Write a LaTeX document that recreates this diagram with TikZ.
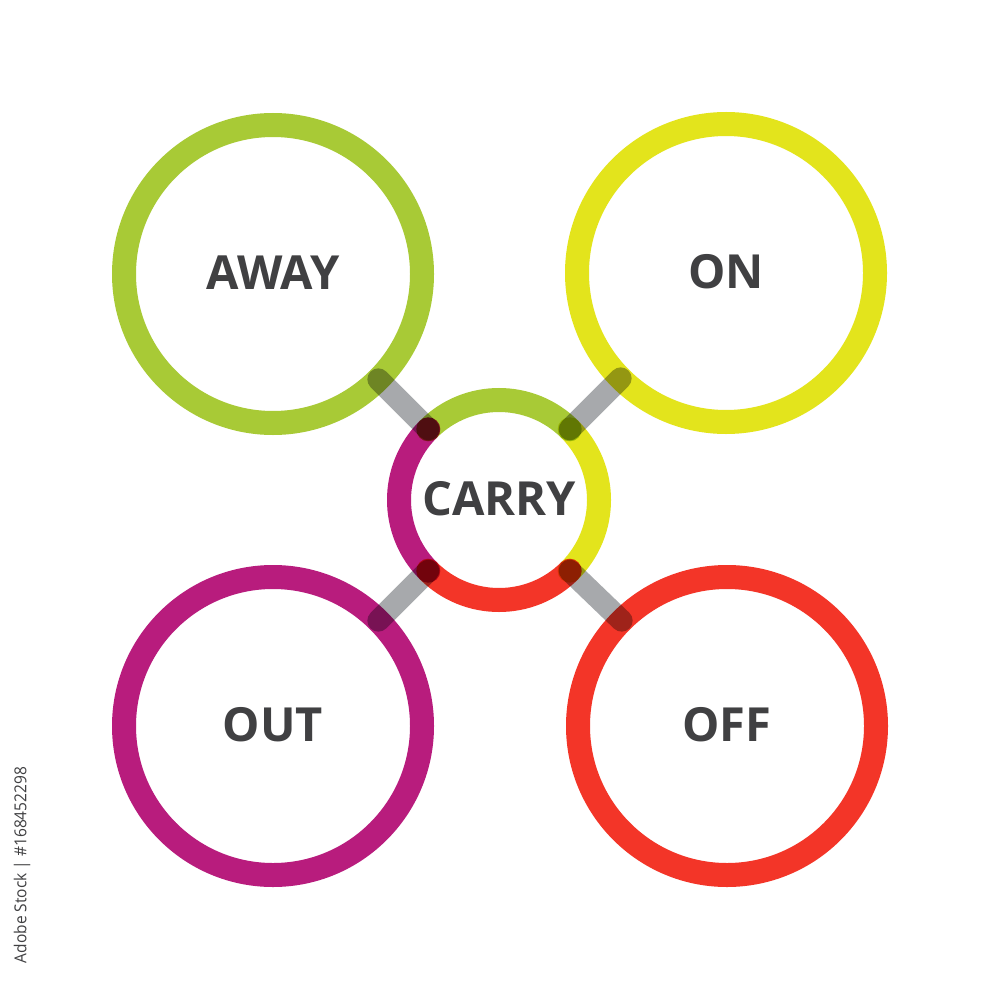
\documentclass[tikz,border=0pt]{standalone}
\usepackage{fontspec}
\setmainfont{Open Sans}
\definecolor{cgreen}{HTML}{A8CA36}
\definecolor{cyellow}{HTML}{E3E41C}
\definecolor{cmagenta}{HTML}{B81C7D}
\definecolor{cred}{HTML}{F33528}
\definecolor{cgray}{HTML}{A7A9AC}
\definecolor{ctext}{HTML}{404042}
\tikzset{
  bigring/.style={circle, draw=#1, line width=24pt, minimum size=298pt, inner sep=0pt, outer sep=0pt,
    text=ctext, font=\fontsize{47}{47}\selectfont\bfseries, text depth=3pt},
  hub/.style={circle, minimum size=200pt, inner sep=0pt, outer sep=0pt,
    text=ctext, font=\fontsize{47}{47}\selectfont\bfseries, text depth=3pt},
  arcseg/.style={draw=#1, line width=24pt, line cap=round},
  link/.style={draw=cgray, line width=22pt, line cap=round}
}
\begin{document}
\begin{tikzpicture}[x=1pt,y=-1pt]
\fill[white] (0,0) rectangle (1000,1000);
\useasboundingbox (0,0) rectangle (1000,1000);
\begin{scope}[blend group=multiply]
\node[bigring=cgreen] (away) at (273,274) {AWAY};
\node[bigring=cyellow] (on) at (726,273) {ON};
\node[bigring=cmagenta] (out) at (273,726) {OUT};
\node[bigring=cred] (off) at (727,726) {OFF};
\node[hub] (carry) at (499,500) {CARRY};
\draw[arcseg=cgreen] (carry.45) arc[start angle=45, end angle=135, radius=100pt];
\draw[arcseg=cmagenta] (carry.135) arc[start angle=135, end angle=225, radius=100pt];
\draw[arcseg=cred] (carry.225) arc[start angle=225, end angle=315, radius=100pt];
\draw[arcseg=cyellow] (carry.315) arc[start angle=315, end angle=405, radius=100pt];
\draw[link] (away.-45) -- (carry.135);
\draw[link] (on.-135) -- (carry.45);
\draw[link] (out.45) -- (carry.-135);
\draw[link] (off.135) -- (carry.-45);
\end{scope}
\node[rotate=90, text=ctext, font=\fontsize{16.5}{16.5}\selectfont, xscale=0.94] (wm) at (22,865) {Adobe Stock | \#168452298};
\end{tikzpicture}
\end{document}
